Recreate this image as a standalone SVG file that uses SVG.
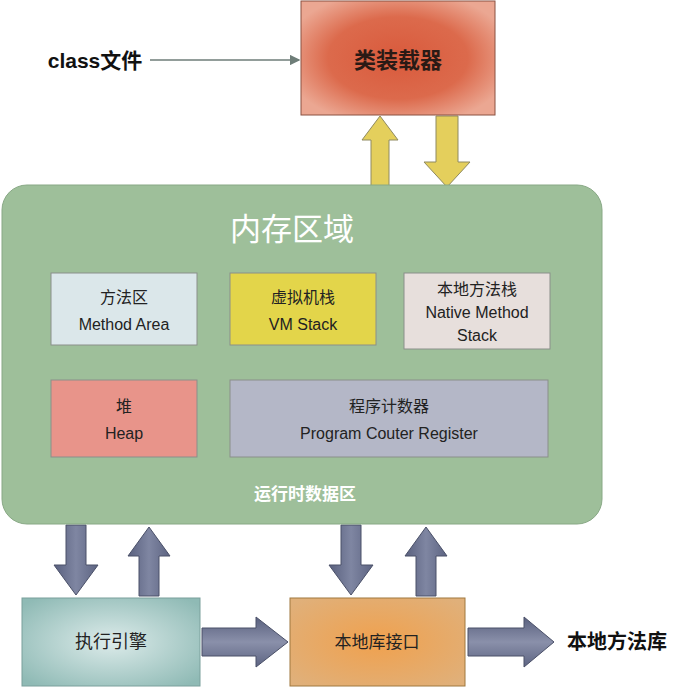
<svg xmlns="http://www.w3.org/2000/svg" width="684" height="694" viewBox="0 0 684 694">
<defs>
<radialGradient id="red" cx="50%" cy="50%" r="60%"><stop offset="0" stop-color="#d95a3c"/><stop offset="0.6" stop-color="#dc6a4c"/><stop offset="1" stop-color="#eba792"/></radialGradient>
<radialGradient id="teal" cx="50%" cy="50%" r="65%"><stop offset="0" stop-color="#dcebea"/><stop offset="1" stop-color="#8fbab5"/></radialGradient>
<radialGradient id="orange" cx="50%" cy="50%" r="65%"><stop offset="0" stop-color="#f0a14e"/><stop offset="1" stop-color="#e0b07a"/></radialGradient>
<linearGradient id="slate" x1="0" y1="0" x2="1" y2="0"><stop offset="0" stop-color="#59607e"/><stop offset="0.5" stop-color="#7f86a2"/><stop offset="1" stop-color="#5d6482"/></linearGradient>
<linearGradient id="slateV" x1="0" y1="0" x2="0" y2="1"><stop offset="0" stop-color="#59607e"/><stop offset="0.5" stop-color="#8a90aa"/><stop offset="1" stop-color="#5d6482"/></linearGradient>
<marker id="ah" markerWidth="8" markerHeight="8" refX="7" refY="4" orient="auto"><path d="M0,0 L8,4 L0,8 Z" fill="#6e7d78"/></marker>
</defs>
<style>
text{font-family:"Liberation Sans","Noto Sans CJK SC",sans-serif;text-anchor:middle}
.sub{stroke:#8a8f8a;stroke-width:1}
.t{font-size:16px;fill:#222}
.yel{fill:#e4cf5c;stroke:#8f8a60;stroke-width:1}
.sl{stroke:#4a5068;stroke-width:1}
</style>
<g id="connectors">
<line x1="150" y1="60" x2="299" y2="60" stroke="#6e7d78" stroke-width="1.3" marker-end="url(#ah)"/>
<path class="yel" d="M380,116 L398,140 L389,140 L389,187 L371,187 L371,140 L362,140 Z"/>
<path class="yel" d="M436,116 L458,116 L458,162 L470,162 L447,187 L424,162 L436,162 Z"/>
<path class="sl" fill="url(#slate)" d="M66,525 L86,525 L86,565 L98,565 L76,595 L54,565 L66,565 Z"/>
<path class="sl" fill="url(#slate)" d="M149,527 L170,556 L159,556 L159,596 L139,596 L139,556 L128,556 Z"/>
<path class="sl" fill="url(#slate)" d="M341,525 L361,525 L361,565 L373,565 L351,595 L329,565 L341,565 Z"/>
<path class="sl" fill="url(#slate)" d="M426,527 L447,556 L436,556 L436,596 L416,596 L416,556 L405,556 Z"/>
<path class="sl" fill="url(#slateV)" d="M202,628 L256,628 L256,617 L288,642 L256,667 L256,656 L202,656 Z"/>
<path class="sl" fill="url(#slateV)" d="M468,628 L524,628 L524,617 L554,642 L524,667 L524,656 L468,656 Z"/>
</g>
<text x="95" y="68" style="font-size:21px;font-weight:bold;fill:#111">class文件</text>
<g id="loader"><rect x="301" y="1" width="194" height="114" fill="url(#red)" stroke="#8a5040"/><text x="398" y="68" style="font-size:22px;font-weight:bold;fill:#2a1a15">类装载器</text></g>
<g id="memory"><rect x="2" y="185" width="600" height="339" rx="25" fill="#9ebf9a" stroke="#88a885"/>
<text x="292" y="240" style="font-size:31px;fill:#fff">内存区域</text>
<text x="305" y="500" style="font-size:17px;font-weight:bold;fill:#fff">运行时数据区</text></g>
<g id="method"><rect class="sub" x="51" y="273" width="146" height="72" fill="#dbe7ea"/><text class="t" x="124" y="303">方法区</text><text class="t" x="124" y="330">Method Area</text></g>
<g id="vmstack"><rect class="sub" x="230" y="273" width="146" height="72" fill="#e3d54a"/><text class="t" x="303" y="303">虚拟机栈</text><text class="t" x="303" y="330">VM Stack</text></g>
<g id="native"><rect class="sub" x="404" y="273" width="146" height="76" fill="#e7dfdc"/><text class="t" x="477" y="295">本地方法栈</text><text class="t" x="477" y="318">Native Method</text><text class="t" x="477" y="341">Stack</text></g>
<g id="heap"><rect class="sub" x="51" y="380" width="146" height="77" fill="#e8948a"/><text class="t" x="124" y="412">堆</text><text class="t" x="124" y="439">Heap</text></g>
<g id="pc"><rect class="sub" x="230" y="380" width="318" height="77" fill="#b4b7c7"/><text class="t" x="389" y="412">程序计数器</text><text class="t" x="389" y="439">Program Couter Register</text></g>
<g id="engine"><rect x="22" y="598" width="178" height="88" fill="url(#teal)" stroke="#7aa09c"/><text x="111" y="648" style="font-size:18px;fill:#222">执行引擎</text></g>
<g id="nif"><rect x="290" y="598" width="175" height="88" fill="url(#orange)" stroke="#a0783e"/><text x="377" y="648" style="font-size:17px;fill:#222">本地库接口</text></g>
<text x="617" y="649" style="font-size:20px;font-weight:bold;fill:#111">本地方法库</text>
</svg>
